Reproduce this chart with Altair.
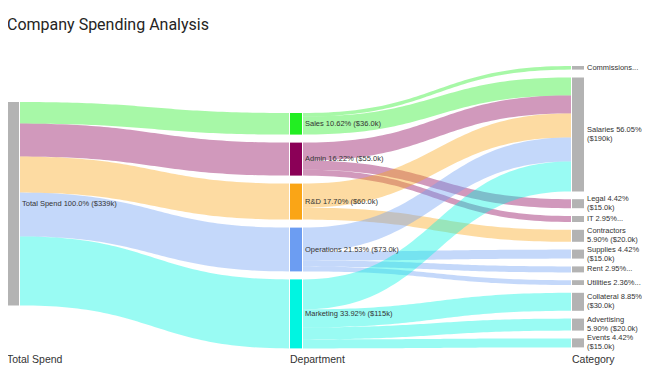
import altair as alt
import pandas as pd
import numpy as np

# ---------------- data ----------------
chart_title = "Company Spending Analysis"
stage_names = ["Total Spend", "Department", "Category"]
root_name = "Total Spend"
departments = ["Sales", "Admin", "R&D", "Operations", "Marketing"]
dept_colors = ["#22EE22", "#8B0057", "#FAA516", "#6C9DF2", "#00F5E1"]
categories = ["Commissions", "Salaries", "Legal", "IT", "Contractors", "Supplies",
              "Rent", "Utilities", "Collateral", "Advertising", "Events"]
# department -> category flows, in $k
flow_source = ["Sales", "Sales", "Admin", "Admin", "Admin", "R&D", "R&D",
               "Operations", "Operations", "Operations", "Operations",
               "Marketing", "Marketing", "Marketing", "Marketing"]
flow_target = ["Commissions", "Salaries", "Salaries", "Legal", "IT", "Salaries", "Contractors",
               "Salaries", "Supplies", "Rent", "Utilities",
               "Salaries", "Collateral", "Advertising", "Events"]
flow_value = [6, 30, 30, 15, 10, 40, 20, 40, 15, 10, 8, 50, 30, 20, 15]

# ---------------- layout constants (page pixels) ----------------
PX_PER_K = 0.6
COL_X = [7, 290, 572]
NODE_W = 12
COL_TOP = [102, 113, 66]
COL_GAP = [0, 8, 7.8]
NODE_GREY = "#B3B3B3"
LINK_ALPHA = 0.4
LABEL_SIZE = 7.5
LABEL_LH = 9
PAD_TOP = 36
W, H = 634, 365 - PAD_TOP

dept_value = {d: sum(v for s, v in zip(flow_source, flow_value) if s == d) for d in departments}
cat_value = {c: sum(v for t, v in zip(flow_target, flow_value) if t == c) for c in categories}
total = sum(flow_value)

columns = [[root_name], departments, categories]
values = {root_name: total, **dept_value, **cat_value}
colors = {root_name: NODE_GREY, **dict(zip(departments, dept_colors)), **{c: NODE_GREY for c in categories}}

node_pos = {}
for ci, names in enumerate(columns):
    y = COL_TOP[ci]
    for n in names:
        h = values[n] * PX_PER_K
        node_pos[n] = (ci, y, y + h)
        y += h + COL_GAP[ci]


def fmt_pct(v):
    p = v / total * 100
    return f"{p:.1f}%" if p >= 99.995 else f"{p:.2f}%"


def fmt_money(v):
    return f"(${v:.0f}k)" if v >= 100 else f"(${v:.1f}k)"


def wrap(text, width=16):
    lines, cur = [], ""
    for w in text.split(" "):
        if not cur:
            cur = w
        elif len(cur) + 1 + len(w) <= width:
            cur += " " + w
        else:
            lines.append(cur)
            cur = w
    lines.append(cur)
    return lines


def fit_label(text, h):
    lines = wrap(text)
    max_lines = 2 if h >= 8 else 1
    if len(lines) > max_lines:
        lines = lines[:max_lines]
        lines[-1] += "..."
    return lines


node_rows = []
for n, (ci, y0, y1) in node_pos.items():
    lines = [f"{n} {fmt_pct(values[n])} {fmt_money(values[n])}"]
    if ci == 2:
        lines = fit_label(lines[0], y1 - y0)
    ym = (y0 + y1) / 2
    node_rows.append(dict(name=n, x=COL_X[ci], x2=COL_X[ci] + NODE_W,
                          y=y0, y2=y1, ly=ym - (len(lines) - 1) * LABEL_LH / 2,
                          color=colors[n], label="\n".join(lines)))
nodes_df = pd.DataFrame(node_rows)

# links
all_links = [(root_name, d, dept_value[d]) for d in departments] + list(zip(flow_source, flow_target, flow_value))
out_off = {n: node_pos[n][1] for n in node_pos}
in_off = {n: node_pos[n][1] for n in node_pos}
order = {n: i for i, n in enumerate([root_name] + departments + categories)}
link_geo = {}
for s, t, v in sorted(all_links, key=lambda l: (order[l[0]], order[l[1]])):
    h = v * PX_PER_K
    link_geo[(s, t)] = [out_off[s], out_off[s] + h, None, None]
    out_off[s] += h
for s, t, v in sorted(all_links, key=lambda l: (order[l[1]], order[l[0]])):
    h = v * PX_PER_K
    link_geo[(s, t)][2:] = [in_off[t], in_off[t] + h]
    in_off[t] += h

tt = np.linspace(0, 1, 61)
link_rows = []
for s, t, v in all_links:
    sy0, sy1, ty0, ty1 = link_geo[(s, t)]
    cs = node_pos[s][0]
    x0 = COL_X[cs] + NODE_W + 1
    x1 = COL_X[cs + 1] - 1
    col = colors[t] if s == root_name else colors[s]
    for u in tt:
        bx = 1.5 * u * (1 - u) + u ** 3
        by = 3 * u ** 2 - 2 * u ** 3
        link_rows.append(dict(link=f"{s}->{t}", x=x0 + (x1 - x0) * bx,
                              y=sy0 + (ty0 - sy0) * by, y2=sy1 + (ty1 - sy1) * by,
                              color=col))
links_df = pd.DataFrame(link_rows)

stage_df = pd.DataFrame(dict(stage=stage_names, x=COL_X, y=[360] * 3))

xs = alt.Scale(domain=[8, 8 + W], nice=False, zero=False)
ys = alt.Scale(domain=[8 + PAD_TOP, 8 + PAD_TOP + H], reverse=True, nice=False, zero=False)

links = alt.Chart(links_df).mark_area(opacity=LINK_ALPHA, orient="vertical", interpolate="linear").encode(
    x=alt.X("x:Q", scale=xs, axis=None),
    y=alt.Y("y:Q", scale=ys, axis=None, stack=None),
    y2="y2:Q",
    detail="link:N",
    color=alt.Color("color:N", scale=None),
)

nodes = alt.Chart(nodes_df).mark_rect().encode(
    x=alt.X("x:Q", scale=xs, axis=None),
    x2="x2:Q",
    y=alt.Y("y:Q", scale=ys, axis=None),
    y2="y2:Q",
    color=alt.Color("color:N", scale=None),
)

labels = alt.Chart(nodes_df).mark_text(
    align="left", baseline="middle", dx=3, font="Liberation Sans", fontSize=LABEL_SIZE,
    color="#333333", lineBreak="\n", lineHeight=LABEL_LH,
).encode(
    x=alt.X("x2:Q", scale=xs, axis=None),
    y=alt.Y("ly:Q", scale=ys, axis=None),
    text="label:N",
)

stages = alt.Chart(stage_df).mark_text(
    align="left", baseline="middle", font="Liberation Sans", fontSize=10.5, color="#333333",
).encode(
    x=alt.X("x:Q", scale=xs, axis=None),
    y=alt.Y("y:Q", scale=ys, axis=None),
    text="stage:N",
)

chart = alt.layer(links, nodes, labels, stages).properties(
    width=W, height=H,
    autosize=alt.AutoSizeParams(type="none"),
    padding={"left": 0, "top": PAD_TOP, "right": 0, "bottom": 0},
    title=alt.TitleParams(chart_title, anchor="start", font="Roboto", fontSize=16,
                          fontWeight="normal", color="#252423", offset=11),
).configure_view(stroke=None)

chart.save("out.html", embed_options={"renderer": "svg", "actions": False})
